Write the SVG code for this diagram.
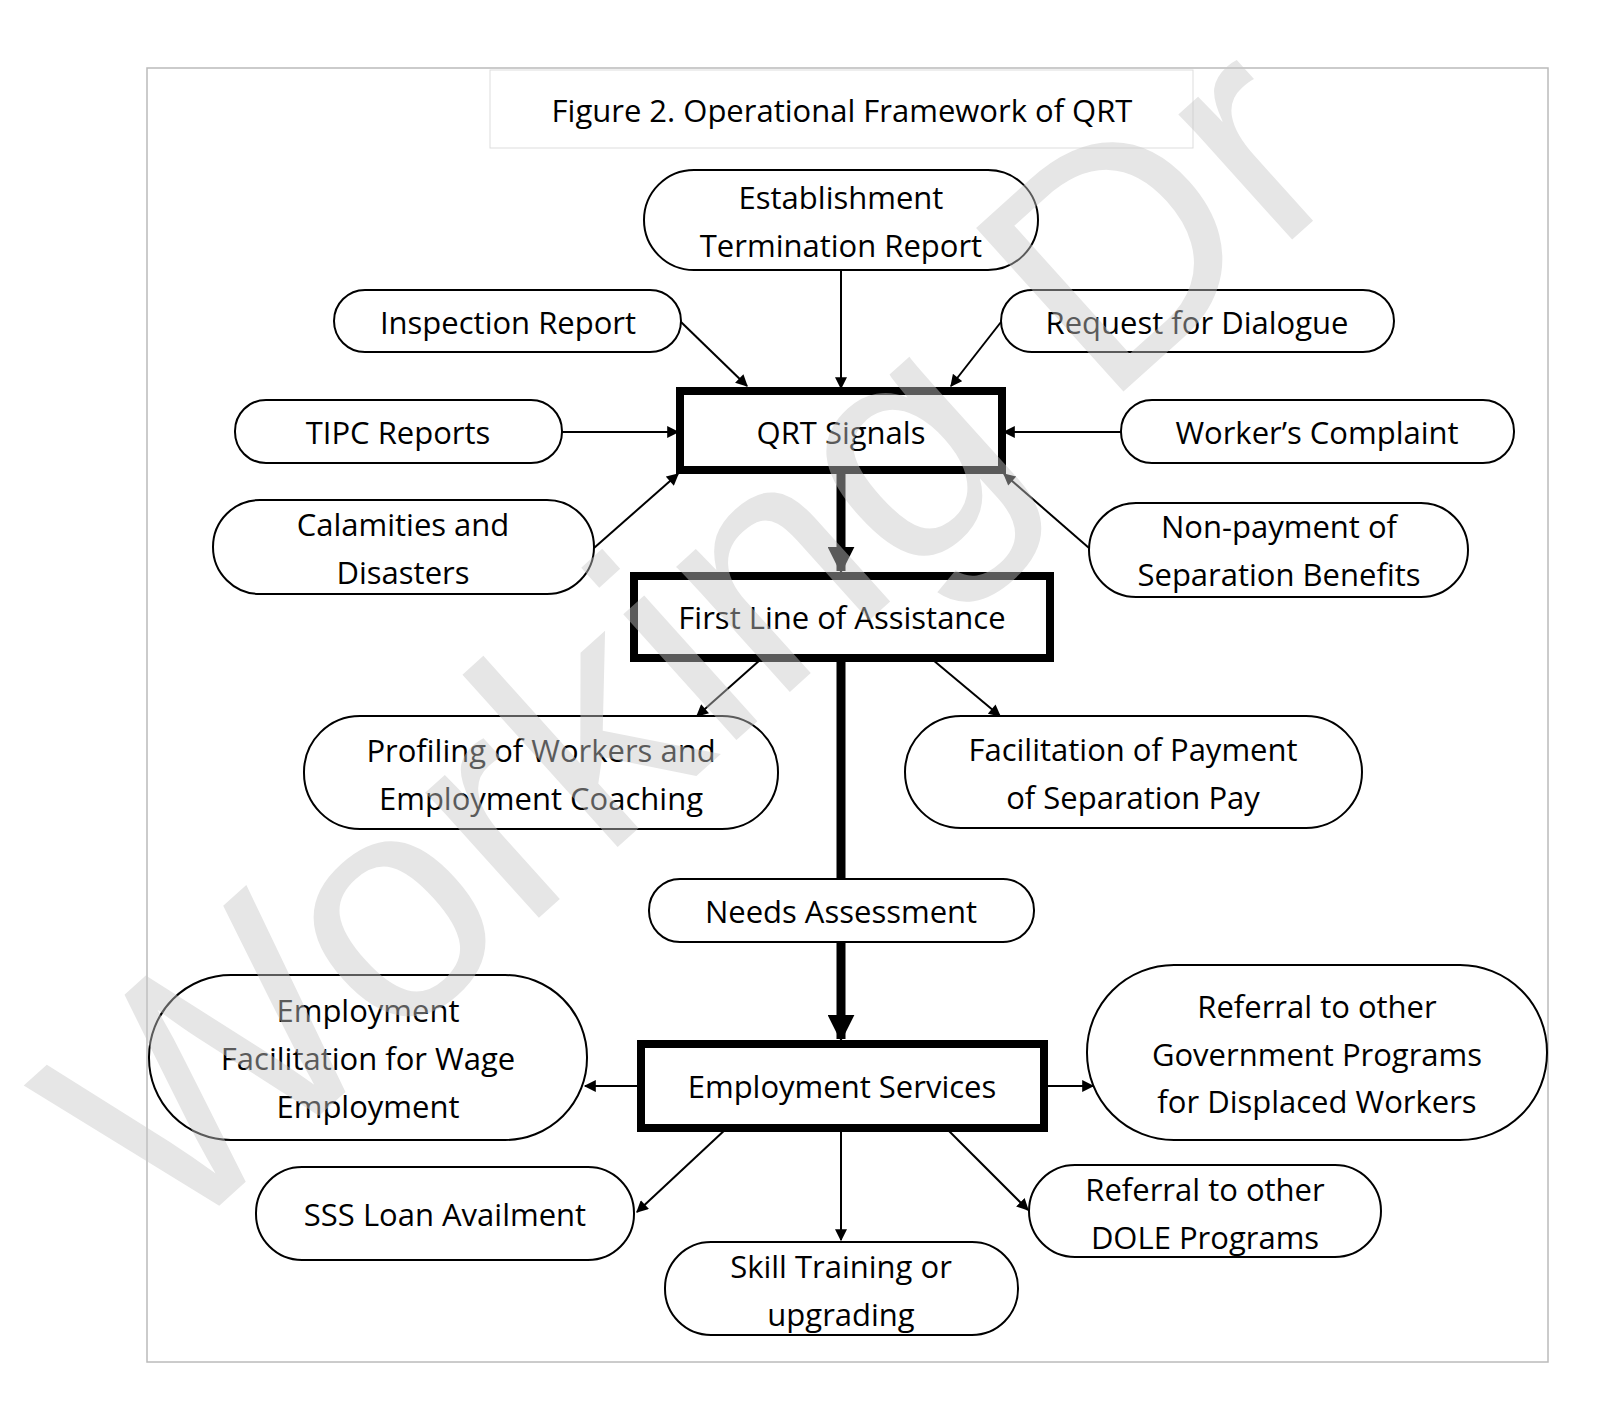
<svg xmlns="http://www.w3.org/2000/svg" width="1607" height="1402" viewBox="0 0 1607 1402">
<style>
text{font-family:"Open Sans","Liberation Sans",sans-serif;font-size:31px;fill:#000;text-anchor:middle;dominant-baseline:central}
.p{fill:#fff;stroke:#000;stroke-width:2}
.b{fill:#fff;stroke:#000;stroke-width:8}
.c{stroke:#000;stroke-width:2;fill:none;marker-end:url(#a)}
.t{stroke:#000;stroke-width:9;fill:none}
</style>
<defs>
<marker id="a" viewBox="0 0 10 10" refX="9" refY="5" markerWidth="13" markerHeight="12" orient="auto" markerUnits="userSpaceOnUse"><path d="M0,0L10,5L0,10z"/></marker>
<marker id="A" viewBox="0 0 10 10" refX="9" refY="5" markerWidth="3" markerHeight="3" orient="auto"><path d="M0,0L10,5L0,10z"/></marker>
</defs>
<rect width="1607" height="1402" fill="#fff"/>
<rect x="147" y="68" width="1401" height="1294" fill="none" stroke="#bbb" stroke-width="1.5"/>
<g id="title"><rect x="490" y="70" width="703" height="78" fill="#fff" stroke="#ddd"/><text x="842" y="110">Figure 2. Operational Framework of QRT</text></g>
<g id="connectors">
<path class="c" d="M841,270V388"/>
<path class="c" d="M681,322L747,386"/>
<path class="c" d="M1001,322L951,386"/>
<path class="c" d="M562,432H678"/>
<path class="c" d="M1121,432H1004"/>
<path class="c" d="M594,548L678,474"/>
<path class="c" d="M1089,548L1004,474"/>
<path class="t" d="M841,470V571" marker-end="url(#A)"/>
<path class="c" d="M760,660L697,716"/>
<path class="c" d="M933,660L1000,716"/>
<path class="t" d="M841,658V879"/>
<path class="t" d="M841,942V1039" marker-end="url(#A)"/>
<path class="c" d="M641,1086H585"/>
<path class="c" d="M1044,1086H1093"/>
<path class="c" d="M727,1128L637,1212"/>
<path class="c" d="M841,1128V1240"/>
<path class="c" d="M946,1128L1028,1210"/>
</g>
<g id="etr"><rect class="p" x="644" y="170" width="394" height="100" rx="50"/><text x="841" y="197">Establishment</text><text x="841" y="245">Termination Report</text></g>
<g id="ir"><rect class="p" x="334" y="290" width="347" height="62" rx="31"/><text x="508" y="322">Inspection Report</text></g>
<g id="rfd"><rect class="p" x="1001" y="290" width="393" height="62" rx="31"/><text x="1197" y="322">Request for Dialogue</text></g>
<g id="qrt"><rect class="b" x="680" y="391" width="322" height="79"/><text x="841" y="432">QRT Signals</text></g>
<g id="tipc"><rect class="p" x="235" y="400" width="327" height="63" rx="31"/><text x="398" y="432">TIPC Reports</text></g>
<g id="wc"><rect class="p" x="1121" y="400" width="393" height="63" rx="31"/><text x="1317" y="432">Worker’s Complaint</text></g>
<g id="cal"><rect class="p" x="213" y="500" width="381" height="94" rx="47"/><text x="403" y="524">Calamities and</text><text x="403" y="572">Disasters</text></g>
<g id="np"><rect class="p" x="1089" y="503" width="379" height="94" rx="47"/><text x="1279" y="526">Non-payment of</text><text x="1279" y="574">Separation Benefits</text></g>
<g id="fla"><rect class="b" x="634" y="576" width="416" height="82"/><text x="842" y="617">First Line of Assistance</text></g>
<g id="prof"><rect class="p" x="304" y="716" width="474" height="113" rx="56"/><text x="541" y="750">Profiling of Workers and</text><text x="541" y="798">Employment Coaching</text></g>
<g id="fps"><rect class="p" x="905" y="716" width="457" height="112" rx="56"/><text x="1133" y="749">Facilitation of Payment</text><text x="1133" y="797">of Separation Pay</text></g>
<g id="na"><rect class="p" x="649" y="879" width="385" height="63" rx="31"/><text x="841" y="911">Needs Assessment</text></g>
<g id="es"><rect class="b" x="641" y="1044" width="403" height="84"/><text x="842" y="1086">Employment Services</text></g>
<g id="ef"><rect class="p" x="149" y="975" width="438" height="165" rx="82"/><text x="368" y="1010">Employment</text><text x="368" y="1058">Facilitation for Wage</text><text x="368" y="1106">Employment</text></g>
<g id="rgp"><rect class="p" x="1087" y="965" width="460" height="175" rx="87"/><text x="1317" y="1006">Referral to other</text><text x="1317" y="1054">Government Programs</text><text x="1317" y="1101">for Displaced Workers</text></g>
<g id="sss"><rect class="p" x="256" y="1167" width="378" height="93" rx="46"/><text x="445" y="1214">SSS Loan Availment</text></g>
<g id="skill"><rect class="p" x="665" y="1242" width="353" height="93" rx="46"/><text x="841" y="1266">Skill Training or</text><text x="841" y="1314">upgrading</text></g>
<g id="dole"><rect class="p" x="1029" y="1165" width="352" height="92" rx="46"/><text x="1205" y="1189">Referral to other</text><text x="1205" y="1237">DOLE Programs</text></g>
<text x="0" y="0" transform="translate(170,1250) rotate(-42)" style="font-size:320px;fill:#c8c8c8;opacity:0.45;text-anchor:start;dominant-baseline:auto;font-family:'Liberation Sans',sans-serif">Working Dr</text>
</svg>
